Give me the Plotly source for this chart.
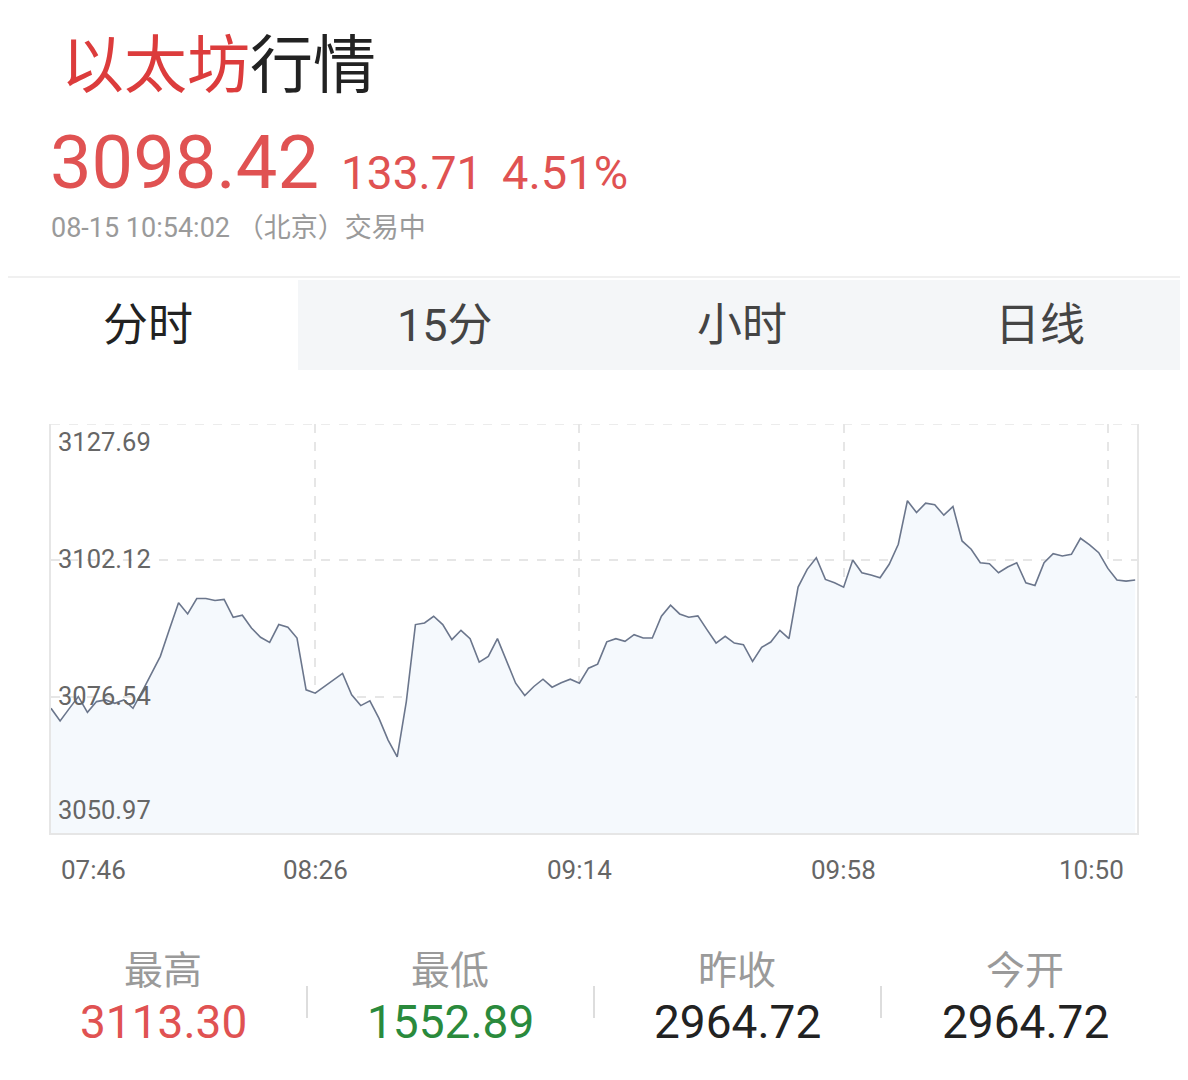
import plotly.graph_objects as go

# ---------------- data ----------------
prices = [
    3074.36, 3071.99, 3074.30, 3076.56, 3073.61, 3075.62, 3075.94, 3075.30, 3075.94, 3074.36,
    3077.51, 3080.71, 3084.10, 3089.18, 3094.14, 3092.06, 3094.96, 3094.96, 3094.59, 3094.78,
    3091.44, 3091.82, 3089.43, 3087.68, 3086.73, 3090.07, 3089.56, 3087.54, 3077.83, 3077.19,
    3078.45, 3079.58, 3080.90, 3076.88, 3074.87, 3075.75, 3072.48, 3068.41, 3065.27, 3075.62,
    3090.07, 3090.37, 3091.63, 3090.07, 3087.24, 3088.99, 3087.43, 3083.02, 3084.10, 3087.43,
    3083.16, 3079.07, 3076.75, 3078.45, 3079.82, 3078.32, 3079.14, 3079.82, 3079.07, 3081.89,
    3082.65, 3086.83, 3087.43, 3086.92, 3088.18, 3087.54, 3087.54, 3091.63, 3093.70, 3092.06,
    3091.44, 3091.69, 3089.13, 3086.60, 3087.86, 3086.60, 3086.30, 3083.16, 3085.79, 3086.79,
    3088.99, 3087.43, 3097.09, 3100.43, 3102.61, 3098.54, 3097.90, 3097.09, 3102.18, 3099.78,
    3099.35, 3098.84, 3101.37, 3105.13, 3113.29, 3111.08, 3112.85, 3112.53, 3110.59, 3112.21,
    3105.75, 3104.19, 3101.67, 3101.48, 3099.78, 3100.86, 3101.67, 3097.90, 3097.41, 3101.67,
    3103.36, 3102.93, 3103.25, 3106.26, 3105.00, 3103.55, 3100.61, 3098.41, 3098.22, 3098.42,
]
point_index = list(range(len(prices)))

y_ticks = [3127.69, 3102.12, 3076.54, 3050.97]
y_tick_labels = ["3127.69", "3102.12", "3076.54", "3050.97"]
x_tick_index = [0, 29, 58, 87, 116]
x_tick_labels = ["07:46", "08:26", "09:14", "09:58", "10:50"]

title_red = "以太坊"
title_dark = "行情"
last_price = "3098.42"
change_abs = "133.71"
change_pct = "4.51%"
status_line = "08-15 10:54:02 （北京）交易中"
tabs = ["分时", "15分", "小时", "日线"]

stat_names = ["最高", "最低", "昨收", "今开"]
stat_values = ["3113.30", "1552.89", "2964.72", "2964.72"]
stat_colors = ["#e05252", "#2a8a3c", "#222222", "#222222"]

# ---------------- geometry helpers (page pixel coordinates) ----------------
PAGE_W, PAGE_H = 1188, 1080
OFF = 8                      # default page body margin
FW, FH = PAGE_W - 2 * OFF, PAGE_H - 2 * OFF
L, R, T, B = 51, 1137, 424, 833
W, H = R - L, B - T


def px(X):
    return (X - L) / W


def py(Y):
    return (B - Y) / H


CJK = "Noto Sans CJK SC"
NUM = "Roboto, Noto Sans CJK SC"
RED = "#e05252"

fig = go.Figure()
fig.add_trace(go.Scatter(
    x=point_index, y=prices, mode="lines",
    line=dict(color="#6b768c", width=1.6),
    fill="tozeroy", fillcolor="#f5f9fd",
    hoverinfo="skip", showlegend=False,
))

ann = []
# header
ann.append(dict(text=f"<span style='color:#dc3c3c'>{title_red}</span>"
                     f"<span style='color:#222222'>{title_dark}</span>",
                x=px(59), y=py(59), xanchor="left", yanchor="middle",
                font=dict(family=CJK, size=63)))
ann.append(dict(text=last_price, x=px(48), y=py(163), xanchor="left", yanchor="middle",
                font=dict(family=NUM, size=74, color=RED)))
ann.append(dict(text=change_abs, x=px(339), y=py(173), xanchor="left", yanchor="middle",
                font=dict(family=NUM, size=46, color=RED)))
ann.append(dict(text=change_pct, x=px(500), y=py(173), xanchor="left", yanchor="middle",
                font=dict(family=NUM, size=47, color=RED)))
ann.append(dict(text=status_line, x=px(49), y=py(228), xanchor="left", yanchor="middle",
                font=dict(family=NUM, size=27, color="#9a9a9a")))

# tabs
tab_centers = [148, 445, 742, 1040]
for i, (t, cx) in enumerate(zip(tabs, tab_centers)):
    ann.append(dict(text=t, x=px(cx), y=py(326), xanchor="center", yanchor="middle",
                    font=dict(family=NUM, size=45, color="#222222" if i == 0 else "#444444")))

# y tick labels inside plot
y_anchor = ["top", "middle", "middle", "bottom"]
y_shift = [-1, 1, 1, 6]
for v, lab, ya, ys in zip(y_ticks, y_tick_labels, y_anchor, y_shift):
    ann.append(dict(text=lab, xref="x domain", x=0, xshift=5, yref="y", y=v,
                    yshift=ys, xanchor="left", yanchor=ya,
                    font=dict(family=NUM, size=25.5, color="#666666")))

# x tick labels
for i, (v, lab) in enumerate(zip(x_tick_index, x_tick_labels)):
    if i == 0:
        xa, xs = "left", 8
    elif i == len(x_tick_index) - 1:
        xa, xs = "center", -16
    else:
        xa, xs = "center", 0
    ann.append(dict(text=lab, xref="x", x=v, xshift=xs, yref="paper", y=py(870),
                    xanchor=xa, yanchor="middle",
                    font=dict(family=NUM, size=26, color="#666666")))

# bottom stats
stat_centers = [163, 450, 737, 1025]
for name, val, col, cx in zip(stat_names, stat_values, stat_colors, stat_centers):
    ann.append(dict(text=name, x=px(cx), y=py(967), xanchor="center", yanchor="middle",
                    font=dict(family=CJK, size=39, color="#9a9a9a")))
    ann.append(dict(text=val, x=px(cx), y=py(1022), xanchor="center", yanchor="middle",
                    font=dict(family=NUM, size=46, color=col)))

for a in ann:
    a.setdefault("xref", "paper")
    a.setdefault("yref", "paper")
    a["showarrow"] = False

shapes = [
    dict(type="line", xref="paper", yref="paper", x0=px(0), x1=px(PAGE_W), y0=py(277), y1=py(277),
         line=dict(color="#f0f0f0", width=2), layer="below"),
    dict(type="rect", xref="paper", yref="paper", x0=px(298), x1=px(PAGE_W), y0=py(370), y1=py(280),
         fillcolor="#f4f6f8", line=dict(width=0), layer="below"),
    # top dashed grid line at the range maximum
    dict(type="line", xref="x domain", yref="y", x0=0, x1=1, y0=y_ticks[0], y1=y_ticks[0],
         line=dict(color="#e6e6e6", width=1.5, dash="dash"), layer="below"),
]
for sx in [307, 594, 881]:
    shapes.append(dict(type="line", xref="paper", yref="paper", x0=px(sx), x1=px(sx),
                       y0=py(1018), y1=py(986), line=dict(color="#dddddd", width=2)))

fig.update_layout(
    width=FW, height=FH, autosize=False,
    margin=dict(l=L - OFF, r=(OFF + FW) - R, t=T - OFF, b=(OFF + FH) - B, pad=0),
    paper_bgcolor="white", plot_bgcolor="white",
    annotations=ann, shapes=shapes, showlegend=False,
    xaxis=dict(range=[0, 119.2], tickvals=x_tick_index, showticklabels=False, ticks="",
               showgrid=True, gridcolor="#e6e6e6", griddash="dash", gridwidth=1.5,
               showline=True, linecolor="#e6e6e6", linewidth=2, zeroline=False,
               fixedrange=True),
    yaxis=dict(range=[y_ticks[-1], y_ticks[0]], tickvals=y_ticks, showticklabels=False,
               ticks="", showgrid=True, gridcolor="#e6e6e6", griddash="dash", gridwidth=1.5,
               showline=True, mirror=True, linecolor="#e6e6e6", linewidth=2,
               zeroline=False, fixedrange=True),
)

fig.write_html("out.html", config={"displayModeBar": False})
